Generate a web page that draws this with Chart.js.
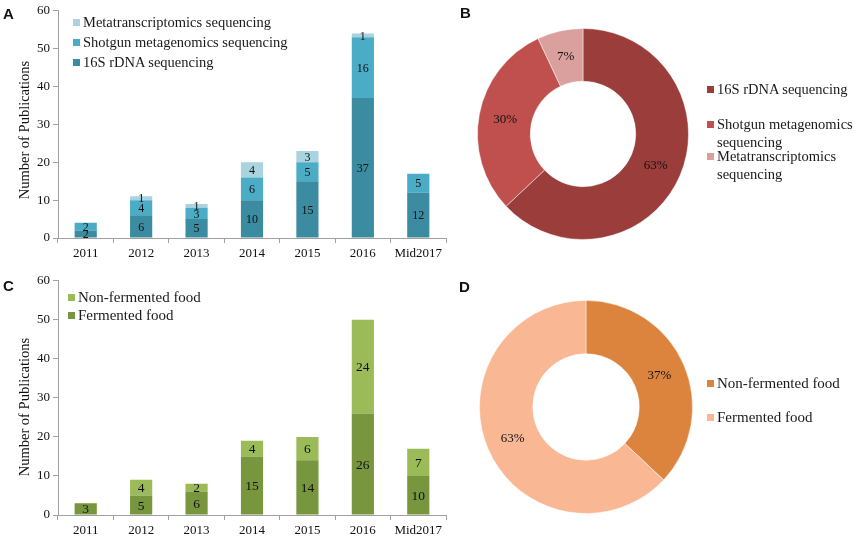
<!DOCTYPE html>
<html>
<head>
<meta charset="utf-8">
<title>Publications by sequencing method and food type</title>
<style>
  body { margin: 0; background: #fff; }
  #wrap { position: relative; width: 856px; height: 539px; overflow: hidden; font-family: "Liberation Serif", "Times New Roman", serif; color: #1a1a1a; }
  .panel { position: absolute; }
  .tag { position: absolute; font: bold 15px "Liberation Sans", Arial, sans-serif; line-height: 15px; color: #111; }
  .ytitle { position: absolute; left: -76px; width: 200px; height: 16px; line-height: 16px; text-align: center; font-size: 14.5px; color: #111; transform: rotate(-90deg); transform-origin: 50% 50%; }
  .leg { position: absolute; }
  .leg .item { position: absolute; left: 0; white-space: nowrap; }
  .leg .sw { position: absolute; left: 0; width: 7px; height: 7px; }
  .leg .txt { position: absolute; }
</style>
</head>
<body>
<div id="wrap">
  <div class="panel" style="left:0;top:0"><canvas id="chartA" width="452" height="266"></canvas></div>
  <div class="panel" style="left:430px;top:0"><canvas id="chartB" width="426" height="266"></canvas></div>
  <div class="panel" style="left:0;top:270px"><canvas id="chartC" width="452" height="269"></canvas></div>
  <div class="panel" style="left:430px;top:270px"><canvas id="chartD" width="426" height="269"></canvas></div>

  <div class="tag" style="left:3px;top:6px">A</div>
  <div class="tag" style="left:460px;top:5px">B</div>
  <div class="tag" style="left:3px;top:278px">C</div>
  <div class="tag" style="left:459px;top:279px">D</div>

  <div class="ytitle" style="top:122px">Number of Publications</div>
  <div class="ytitle" style="top:399px">Number of Publications</div>

  <div class="leg" id="legA" style="left:73px;top:0"></div>
  <div class="leg" id="legB" style="left:707px;top:0"></div>
  <div class="leg" id="legC" style="left:68px;top:270px"></div>
  <div class="leg" id="legD" style="left:707px;top:270px"></div>
</div>

<script src="https://cdn.jsdelivr.net/npm/chart.js"></script>
<script>
// ---- data ----
const years = ['2011', '2012', '2013', '2014', '2015', '2016', 'Mid2017'];
const yTicks = [0, 10, 20, 30, 40, 50, 60];

// panel A: publications by sequencing method
const seq16S = [2, 6, 5, 10, 15, 37, 12];
const seqShotgun = [2, 4, 3, 6, 5, 16, 5];
const seqMeta = [0, 1, 1, 4, 3, 1, 0];

// panel C: publications by food type
const foodFermented = [3, 5, 6, 15, 14, 26, 10];
const foodNonFermented = [0, 4, 2, 4, 6, 24, 7];

// panel B: share of sequencing methods (%)
const methodLabels = ['16S rDNA sequencing', 'Shotgun metagenomics sequencing', 'Metatranscriptomics sequencing'];
const methodShare = [63, 30, 7];

// panel D: share of food types (%)
const foodLabels = ['Non-fermented food', 'Fermented food'];
const foodShare = [37, 63];

// colours
const colA = { s16: '#3B8BA1', shot: '#4BACC6', meta: '#A8D3DF' };
const colC = { ferm: '#77963D', non: '#9BBB59' };
const colB = ['#9B3D3B', '#C0504D', '#D9A09E'];
const colD = ['#DC843D', '#F9B794'];

const serif = '"Liberation Serif", "Times New Roman", serif';
const axisGrey = '#A0A0A0';

// write the value in the middle of every bar segment
const barLabels = {
  id: 'barLabels',
  afterDatasetsDraw(chart, args, opts) {
    const ctx = chart.ctx;
    ctx.save();
    ctx.font = opts.size + 'px ' + serif;
    ctx.fillStyle = '#111';
    ctx.textAlign = 'center';
    ctx.textBaseline = 'middle';
    chart.data.datasets.forEach((ds, i) => {
      chart.getDatasetMeta(i).data.forEach((bar, j) => {
        const v = ds.data[j];
        if (!v) return;
        ctx.fillText(String(v), bar.x, (bar.y + bar.base) / 2 + 1);
      });
    });
    ctx.restore();
  }
};

// percentage inside each doughnut slice
const arcLabels = {
  id: 'arcLabels',
  afterDatasetsDraw(chart) {
    const ctx = chart.ctx;
    ctx.save();
    ctx.font = '13px ' + serif;
    ctx.fillStyle = '#111';
    ctx.textAlign = 'center';
    ctx.textBaseline = 'middle';
    const ds = chart.data.datasets[0];
    chart.getDatasetMeta(0).data.forEach((arc, j) => {
      const p = arc.tooltipPosition();
      ctx.fillText(ds.data[j] + '%', p.x, p.y);
    });
    ctx.restore();
  }
};

function barOptions(pad, xHeight, labelSize) {
  return {
    responsive: false,
    animation: false,
    layout: { autoPadding: false, padding: pad },
    plugins: {
      legend: { display: false },
      tooltip: { enabled: false },
      barLabels: { size: labelSize }
    },
    scales: {
      x: {
        stacked: true,
        grid: { offset: true, drawOnChartArea: false, tickLength: 5, color: axisGrey },
        border: { color: axisGrey },
        ticks: { color: '#111', font: { family: serif, size: 13 }, padding: 3, maxRotation: 0, autoSkip: false },
        afterFit(s) { s.height = xHeight; }
      },
      y: {
        stacked: true,
        min: 0,
        max: 60,
        afterBuildTicks(s) { s.ticks = yTicks.map(v => ({ value: v })); },
        grid: { drawOnChartArea: false, tickLength: 5, color: axisGrey },
        border: { color: axisGrey },
        ticks: { color: '#111', font: { family: serif, size: 13 }, padding: 3 },
        afterFit(s) { s.width = 58; }
      }
    }
  };
}

new Chart(document.getElementById('chartA'), {
  type: 'bar',
  data: {
    labels: years,
    datasets: [
      { label: '16S rDNA sequencing', data: seq16S, backgroundColor: colA.s16, categoryPercentage: 1, barPercentage: 0.4 },
      { label: 'Shotgun metagenomics sequencing', data: seqShotgun, backgroundColor: colA.shot, categoryPercentage: 1, barPercentage: 0.4 },
      { label: 'Metatranscriptomics sequencing', data: seqMeta, backgroundColor: colA.meta, categoryPercentage: 1, barPercentage: 0.4 }
    ]
  },
  options: barOptions({ top: 7, right: 6, left: 0, bottom: 0 }, 28, 12),
  plugins: [barLabels]
});

new Chart(document.getElementById('chartC'), {
  type: 'bar',
  data: {
    labels: years,
    datasets: [
      { label: 'Fermented food', data: foodFermented, backgroundColor: colC.ferm, categoryPercentage: 1, barPercentage: 0.4 },
      { label: 'Non-fermented food', data: foodNonFermented, backgroundColor: colC.non, categoryPercentage: 1, barPercentage: 0.4 }
    ]
  },
  options: barOptions({ top: 10, right: 6, left: 0, bottom: 0 }, 24, 13.5),
  plugins: [barLabels]
});

function donutOptions(pad) {
  return {
    responsive: false,
    animation: false,
    cutout: '50%',
    layout: { autoPadding: false, padding: pad },
    plugins: { legend: { display: false }, tooltip: { enabled: false } }
  };
}

new Chart(document.getElementById('chartB'), {
  type: 'doughnut',
  data: {
    labels: methodLabels,
    datasets: [{ data: methodShare, backgroundColor: colB, borderColor: 'rgba(255,255,255,0.45)', borderWidth: 1 }]
  },
  options: donutOptions({ left: 47, top: 28, right: 167, bottom: 26 }),
  plugins: [arcLabels]
});

new Chart(document.getElementById('chartD'), {
  type: 'doughnut',
  data: {
    labels: foodLabels,
    datasets: [{ data: foodShare, backgroundColor: colD, borderColor: 'rgba(255,255,255,0.45)', borderWidth: 1 }]
  },
  options: donutOptions({ left: 49, top: 30, right: 163, bottom: 25 }),
  plugins: [arcLabels]
});

// ---- legends as html text ----
function buildLegend(id, labels, colors, tops, size, lineH, wrapWidth) {
  const box = document.getElementById(id);
  labels.forEach((lab, i) => {
    const item = document.createElement('div');
    item.className = 'item';
    item.style.top = tops[i] + 'px';
    const sw = document.createElement('div');
    sw.className = 'sw';
    sw.style.background = colors[i];
    sw.style.top = (lineH / 2 - 3.5) + 'px';
    const txt = document.createElement('div');
    txt.className = 'txt';
    txt.textContent = lab;
    txt.style.left = '10px';
    txt.style.font = size + 'px ' + serif;
    txt.style.lineHeight = lineH + 'px';
    if (wrapWidth) { txt.style.whiteSpace = 'normal'; txt.style.width = wrapWidth + 'px'; }
    item.appendChild(sw);
    item.appendChild(txt);
    box.appendChild(item);
  });
}

buildLegend('legA', [methodLabels[2], methodLabels[1], methodLabels[0]], [colA.meta, colA.shot, colA.s16], [13, 33, 53], 14.5, 18);
buildLegend('legC', ['Non-fermented food', 'Fermented food'], [colC.non, colC.ferm], [18, 36], 15, 18);
buildLegend('legB', methodLabels, colB, [81, 116, 148], 14.5, 17.5, 146);
buildLegend('legD', foodLabels, colD, [104, 138], 15, 18);
</script>
</body>
</html>
